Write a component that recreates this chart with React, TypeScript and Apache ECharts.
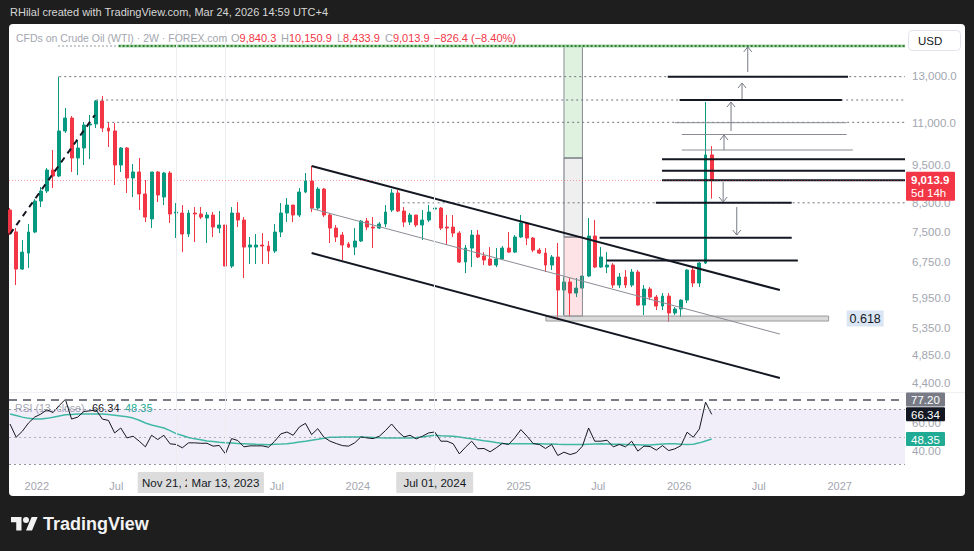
import { useEffect, useRef } from 'react';
import * as echarts from 'echarts';

// ---- bar data (2W candles, CFDs on Crude Oil (WTI), FOREX.com) ----
const FIRST_BAR = '2021-11-01';
const BAR_DAYS = 14;

const opens = [
  8101, 7500, 6578, 6960, 7496, 8362, 8663, 9330, 9134, 10707,
  11209, 9733, 10083, 10936, 10974, 11902, 10821, 10707, 9496, 10083,
  9070, 9265, 8573, 7850, 9265, 8481, 9232, 8016, 8016, 7443,
  8016, 7988, 7876, 7960, 7602, 7684, 6648, 8016, 7820, 7109,
  7109, 7161, 7134, 7009, 7496, 8016, 8245, 7960, 8633, 8974,
  8158, 8724, 7960, 7602, 7417, 7186, 7109, 7262, 7793, 7629,
  7602, 7711, 8101, 8603, 8073, 7765, 7960, 7684, 7820, 8130,
  8158, 7629, 7629, 7469, 6743, 7084, 7417, 6887, 6815, 6672,
  6815, 7084, 6984, 7365, 7738, 7339, 7034, 6960, 6672, 6863,
  6108, 6284, 6044, 6151, 6418, 7391, 6625, 6625, 6672, 6218,
  6395, 6218, 6509, 5794, 6130, 5959, 5773, 5980, 5633, 5713,
  5896, 6555, 6262, 6719, 9840.3,
];
const highs = [
  8158, 7602, 7288, 7711, 8421, 8786, 9396, 10012, 12970, 11612,
  11288, 10372, 11052, 11329, 11944, 12114, 11052, 11013, 10119, 10119,
  9530, 9733, 9006, 9265, 9297, 9265, 9297, 8303, 8245, 8101,
  8187, 8187, 8044, 8044, 8073, 7738, 8187, 8333, 7903, 7365,
  7443, 7469, 7262, 7711, 8303, 8451, 8245, 8755, 9232, 9462,
  8786, 8755, 8016, 7684, 7496, 7237, 7602, 7820, 7876, 7903,
  7765, 8245, 8724, 8693, 8187, 8016, 7960, 8101, 8245, 8391,
  8187, 7960, 7960, 7522, 7161, 7549, 7549, 6984, 7109, 7084,
  7134, 7496, 7417, 7960, 7765, 7365, 7084, 7084, 6911, 7211,
  6395, 6373, 6373, 6441, 7876, 7820, 7109, 6984, 6719, 6486,
  6555, 6578, 6555, 6218, 6173, 6002, 6044, 6044, 5753, 5910,
  6578, 6625, 6743, 11860, 10150.9,
];
const lows = [
  7417, 6218, 6555, 6602, 7469, 8187, 8603, 8755, 9102, 10631,
  9265, 9167, 9496, 9699, 10821, 10669, 10119, 8849, 9265, 8603,
  8481, 8101, 7765, 7602, 8333, 8245, 7738, 7339, 6984, 7365,
  7237, 7848, 7211, 7365, 7469, 6418, 6600, 7629, 6373, 6696,
  6696, 6696, 6696, 6960, 7365, 7765, 7765, 7903, 8600, 8044,
  8101, 7903, 7211, 7237, 6791, 7084, 6911, 7237, 7549, 7084,
  7575, 7629, 8044, 8044, 7629, 7684, 7629, 7288, 7765, 8101,
  7549, 7161, 7365, 6720, 6486, 6625, 6840, 6672, 6650, 6625,
  6791, 6960, 6960, 7339, 7161, 6984, 6935, 6509, 6555, 5495,
  5593, 5553, 5959, 5959, 6395, 6602, 6602, 6486, 6151, 6151,
  6151, 6173, 5780, 5593, 5896, 5693, 5693, 5457, 5593, 5553,
  5835, 6173, 6173, 6696, 8433.9,
];
const closes = [
  7469, 6578, 6984, 7496, 8362, 8663, 9330, 9134, 10707, 11209,
  9733, 10083, 10936, 10974, 11902, 10821, 10707, 9496, 10083, 9070,
  9265, 8573, 7903, 9265, 8542, 9232, 7988, 8044, 7443, 8016,
  7988, 7903, 7960, 7629, 7684, 6648, 8016, 7820, 7109, 7161,
  7161, 7134, 7009, 7496, 8016, 8245, 7960, 8633, 8974, 8158,
  8724, 7960, 7602, 7365, 7161, 7109, 7262, 7793, 7629, 7602,
  7711, 8044, 8603, 8073, 7765, 7960, 7684, 7820, 8044, 8158,
  7602, 7602, 7469, 6743, 7084, 7417, 6863, 6791, 6672, 6815,
  7084, 6984, 7365, 7738, 7339, 7034, 6960, 6672, 6863, 6108,
  6284, 6044, 6151, 6418, 7391, 6625, 6863, 6672, 6218, 6395,
  6218, 6509, 5794, 6130, 5959, 5773, 5980, 5633, 5713, 5896,
  6555, 6262, 6719, 9840.3, 9013.9,
];

// RSI(13, close) and its moving average
const rsi = [
  59.3, 49.7, 54.0, 60.0, 64.3, 66.5, 69.6, 67.7, 72.8, 77.2,
  62.9, 64.3, 68.4, 68.9, 69.5, 62.9, 61.9, 52.8, 56.4, 49.2,
  50.4, 46.8, 42.7, 51.1, 48.0, 51.1, 44.9, 44.4, 42.0, 45.6,
  45.6, 45.3, 45.3, 43.2, 43.7, 37.6, 48.7, 47.3, 42.7, 43.4,
  43.4, 43.4, 42.4, 46.8, 52.1, 53.5, 51.1, 57.1, 59.8, 51.6,
  55.9, 49.7, 46.8, 45.1, 43.6, 43.2, 45.6, 49.9, 49.2, 48.7,
  50.4, 54.5, 59.3, 54.0, 49.9, 51.1, 48.5, 50.4, 52.8, 53.5,
  46.8, 46.8, 44.9, 37.6, 42.4, 46.8, 41.3, 41.5, 39.1, 42.0,
  45.3, 44.4, 49.2, 55.2, 50.4, 45.1, 44.4, 41.5, 44.4, 36.4,
  38.8, 37.1, 38.4, 43.2, 56.4, 46.8, 46.8, 47.5, 42.7, 44.4,
  42.7, 46.8, 39.6, 43.2, 42.9, 40.3, 43.6, 40.0, 41.2, 43.6,
  53.3, 49.7, 55.7, 75.2, 66.34,
];
const rsiMa = [
  66.5, 65.5, 64.3, 63.4, 62.9, 63.0, 63.4, 64.2, 65.2, 66.0,
  66.3, 66.5, 66.5, 66.5, 66.5, 66.6, 66.2, 65.7, 65.2, 64.5,
  63.6, 62.0, 60.0, 58.6, 57.5, 56.4, 54.5, 52.3, 51.0, 49.5,
  48.5, 47.8, 47.0, 46.6, 46.0, 45.7, 45.4, 45.1, 44.9, 44.7,
  44.5, 44.4, 44.3, 44.5, 44.7, 45.0, 45.5, 46.2, 46.8, 47.5,
  48.2, 49.0, 49.6, 49.7, 49.8, 49.9, 49.9, 49.8, 49.7, 49.5,
  49.3, 49.2, 49.2, 49.2, 49.2, 49.2, 49.4, 49.8, 50.5, 51.1,
  50.8, 50.6, 50.4, 49.8, 49.2, 48.5, 47.8, 47.1, 46.5, 45.8,
  45.2, 45.0, 44.9, 44.9, 44.9, 44.9, 44.9, 44.8, 44.7, 44.5,
  44.4, 44.4, 44.4, 44.4, 44.6, 44.8, 44.9, 44.8, 44.6, 44.5,
  44.4, 44.3, 44.2, 44.1, 44.0, 44.4, 44.7, 44.9, 44.9, 44.5,
  44.4, 44.6, 45.6, 47.0, 48.35,
];
const rsiBands = [70, 50, 30];
const rsiMarkLevel = 77.2;

// axis ticks
const priceTicks = [13000, 11000, 9500, 8300, 7500, 6750, 5950, 5350, 4850, 4400];
const rsiTicks = [40, 60];
const timeTicks = ['2022-01-01', '2022-07-01', '2023-07-01', '2024-01-01', '2025-01-01', '2025-07-01', '2026-01-01', '2026-07-01', '2027-01-01'];
const timeTickLabels = ['2022', 'Jul', 'Jul', '2024', '2025', 'Jul', '2026', 'Jul', '2027'];
const markedDates = ['2022-11-21', '2023-03-13', '2024-07-01'];
const markedDateLabels = ['Nov 21, 2022', 'Mar 13, 2023', 'Jul 01, 2024'];

// drawings: [startDate, startPrice, endDate (null = to the right edge), endPrice, kind]
const segments: [string, number, string | null, number, string][] = [
  ['2022-07-06', 14450, null, 14450, 'target'],
  ['2022-02-21', 12970, null, 12970, 'dotted'],
  ['2022-05-16', 11944, null, 11944, 'dotted'],
  ['2022-06-10', 11040, null, 11040, 'dotted'],
  ['2024-04-12', 8310, null, 8310, 'dotted'],
  ['2021-11-01', 7443, '2022-05-13', 11329, 'dash'],
  ['2023-09-18', 9462, '2026-08-18', 6108, 'thick'],
  ['2023-09-14', 8158, '2026-08-18', 5230, 'thin'],
  ['2023-09-18', 6960, '2026-08-18', 4478, 'thick'],
  ['2025-12-06', 12970, '2027-01-20', 12970, 'thick'],
  ['2026-01-02', 11944, '2027-01-06', 11944, 'thick'],
  ['2025-12-22', 11025, '2027-01-17', 11025, 'thin'],
  ['2026-01-07', 10575, '2027-01-17', 10575, 'thin'],
  ['2026-01-07', 10012, '2027-01-31', 10012, 'thin'],
  ['2025-11-23', 9690, null, 9690, 'thick'],
  ['2025-11-23', 9307, null, 9307, 'thick'],
  ['2025-11-23', 9000, null, 9000, 'thick'],
  ['2025-11-09', 8310, '2026-09-14', 8310, 'thick'],
  ['2025-07-04', 7346, '2026-09-14', 7346, 'thick'],
  ['2025-07-20', 6778, '2026-09-28', 6778, 'thick'],
];
// arrows: [date, fromPrice, toPrice]
const arrows: [string, number, number][] = [
  ['2026-06-06', 13185, 14404],
  ['2026-05-24', 11986, 12683],
  ['2026-04-29', 10707, 11860],
  ['2026-04-13', 10012, 10557],
  ['2026-04-11', 8943, 8333],
  ['2026-05-12', 8187, 7417],
];
// boxes: [startDate, endDate, topPrice, bottomPrice, kind]
const zones: [string, string, number, number, string][] = [
  ['2025-04-14', '2025-05-26', 14450, 9733, 'profit'],
  ['2025-04-14', '2025-05-26', 9733, 7365, 'neutral'],
  ['2025-04-14', '2025-05-26', 7365, 5573, 'loss'],
  ['2025-03-04', '2026-12-07', 5573, 5476, 'fib'],
];
const fibRatio = '0.618';
const fibLabelDate = '2027-01-17';
const countdown = '5d 14h';

// ---- layout ----
const VIEW_FROM = '2021-10-29T17:25:00Z';
const VIEW_TO = '2027-05-29T15:50:00Z';
const FONT = '"Liberation Sans", Arial, sans-serif';
const UP = '#089981';
const DOWN = '#f23645';
const AXIS_TEXT = '#a3a6af';
const DAY = 86400000;

const ts = (d: string) => Date.parse(d.length <= 10 ? d + 'T00:00:00Z' : d);
const fmt1 = (v: number) => v.toLocaleString('en-US', { minimumFractionDigits: 1, maximumFractionDigits: 1 });

echarts.graphic.registerShape(
  'tvLogo',
  echarts.graphic.extendPath('M14 22H7V11H0V4h14v18zM28 22h-8l7.5-18h8L28 22zM24 8a4 4 0 1 1-8 0a4 4 0 1 1 8 0z', {})
);

function buildOption(): any {
  const first = ts(FIRST_BAR);
  const barTimes = closes.map((_, i) => first + i * BAR_DAYS * DAY);
  const xMin = ts(VIEW_FROM);
  const xMax = ts(VIEW_TO);
  const last = closes.length - 1;
  const snap = (d: string) => barTimes[Math.floor((ts(d) - first) / (BAR_DAYS * DAY))];
  const markedTimes = markedDates.map(snap);

  const segStyle: Record<string, any> = {
    thick: { stroke: '#131722', lineWidth: 2 },
    thin: { stroke: '#8a8d96', lineWidth: 1 },
    dotted: { stroke: '#6f727c', lineWidth: 1, lineDash: [2, 3] },
    dash: { stroke: '#131722', lineWidth: 2, lineDash: [6, 5] },
  };
  const zoneStyle: Record<string, any> = {
    profit: { fill: 'rgba(76,175,80,0.18)', stroke: '#8a8d96', lineWidth: 1 },
    neutral: { fill: 'rgba(120,123,134,0.12)', stroke: '#6f727c', lineWidth: 1 },
    loss: { fill: 'rgba(242,54,69,0.14)', stroke: '#8a8d96', lineWidth: 1 },
    fib: { fill: 'rgba(150,150,150,0.35)', stroke: '#9a9a9a', lineWidth: 1 },
  };

  const change = closes[last] - closes[last - 1];
  const pct = (change / closes[last - 1]) * 100;
  const minus = (v: number) => (v < 0 ? '\u2212' : '+') + fmt1(Math.abs(v));

  const rsiTags = [
    { v: rsiMarkLevel, bg: '#787b86' },
    { v: rsi[last], bg: '#131722' },
    { v: rsiMa[last], bg: '#22ab94' },
  ];

  const legendPiece = (x: number, k: string, v: string) => ({
    type: 'text', x, y: 38, z: 100,
    style: {
      text: `{k|${k}}{v|${v}}`, textVerticalAlign: 'middle', verticalAlign: 'middle',
      rich: { k: { fill: AXIS_TEXT, fontSize: 11, fontFamily: FONT }, v: { fill: DOWN, fontSize: 11, fontFamily: FONT } },
    },
  });

  return {
    animation: false,
    backgroundColor: 'transparent',
    textStyle: { fontFamily: FONT },
    grid: [
      { left: 9, right: 69, top: 30, height: 362, outerBoundsMode: 'none' },
      { left: 9, right: 69, top: 393, height: 80, outerBoundsMode: 'none' },
    ],
    xAxis: [
      { type: 'value', gridIndex: 0, min: xMin, max: xMax, show: false },
      {
        type: 'value', gridIndex: 1, min: xMin, max: xMax,
        axisLine: { show: false }, axisTick: { show: false }, splitLine: { show: false },
        axisLabel: {
          customValues: timeTicks.map(ts),
          formatter: (v: number) => {
            const i = timeTicks.map(ts).indexOf(v);
            return i >= 0 ? timeTickLabels[i] : '';
          },
          color: AXIS_TEXT, fontSize: 11, margin: 7, fontFamily: FONT,
        },
      },
    ],
    yAxis: [
      {
        type: 'log', logBase: 10, gridIndex: 0, position: 'right', min: 4263, max: 15291,
        axisLine: { show: false }, axisTick: { show: false }, splitLine: { show: false },
        axisLabel: {
          customValues: priceTicks,
          formatter: (v: number) => fmt1(Math.round(v)),
          color: AXIS_TEXT, fontSize: 11.5, margin: 7, align: 'left', fontFamily: FONT,
        },
      },
      {
        type: 'value', gridIndex: 1, position: 'right', min: 23.67, max: 81.85,
        axisLine: { show: false }, axisTick: { show: false }, splitLine: { show: false },
        axisLabel: {
          customValues: rsiTicks,
          formatter: (v: number) => v.toFixed(2),
          color: AXIS_TEXT, fontSize: 11.5, margin: 7, align: 'left', fontFamily: FONT,
        },
      },
    ],
    series: [
      {
        type: 'candlestick', name: 'WTI', xAxisIndex: 0, yAxisIndex: 0, z: 2,
        data: barTimes.map((t, i) => [t, opens[i], closes[i], lows[i], highs[i]]),
        encode: { x: 0, y: [1, 2, 3, 4] },
        barWidth: 3.4,
        itemStyle: { color: UP, color0: DOWN, borderColor: UP, borderColor0: DOWN, borderWidth: 1 },
        markLine: {
          silent: true, symbol: ['none', 'none'], label: { show: false },
          data: [
            ...markedTimes.map((t) => ({ xAxis: t, lineStyle: { color: '#eceef2', width: 1, type: 'solid' } })),
            { yAxis: closes[last], lineStyle: { color: 'rgba(242,54,69,0.45)', width: 1, type: [1, 2] } },
          ],
        },
      },
      {
        type: 'custom', name: 'zones', xAxisIndex: 0, yAxisIndex: 0, z: 3, clip: false,
        data: zones.map((zn) => [ts(zn[0]), zn[2], ts(zn[1]), zn[3]]),
        renderItem: (params: any, api: any) => {
          const kind = zones[params.dataIndex][4];
          const a = api.coord([api.value(0), api.value(1)]);
          const b = api.coord([api.value(2), api.value(3)]);
          return {
            type: 'rect',
            shape: { x: a[0], y: a[1], width: b[0] - a[0], height: b[1] - a[1] },
            style: zoneStyle[kind],
          };
        },
      },
      {
        type: 'custom', name: 'segments', xAxisIndex: 0, yAxisIndex: 0, z: 4, clip: false,
        data: segments.map((s) => [ts(s[0]), s[1], s[2] ? ts(s[2]) : xMax, s[3]]),
        renderItem: (params: any, api: any) => {
          const kind = segments[params.dataIndex][4];
          const a = api.coord([api.value(0), api.value(1)]);
          const b = api.coord([api.value(2), api.value(3)]);
          const shape = { x1: a[0], y1: a[1], x2: b[0], y2: b[1] };
          if (kind === 'target') {
            return {
              type: 'group',
              children: [
                { type: 'line', shape, style: { stroke: '#a5d6a7', lineWidth: 3 } },
                { type: 'line', shape, style: { stroke: '#2e7d32', lineWidth: 2, lineDash: [2, 2] } },
              ],
            };
          }
          return { type: 'line', shape, style: segStyle[kind] };
        },
      },
      {
        type: 'custom', name: 'arrows', xAxisIndex: 0, yAxisIndex: 0, z: 4, clip: false,
        data: arrows.map((r) => [ts(r[0]), r[1], r[2]]),
        renderItem: (params: any, api: any) => {
          const a = api.coord([api.value(0), api.value(1)]);
          const b = api.coord([api.value(0), api.value(2)]);
          const dir = b[1] < a[1] ? 1 : -1;
          const st = { stroke: '#787b86', lineWidth: 1, fill: 'none' };
          return {
            type: 'group',
            children: [
              { type: 'line', shape: { x1: a[0], y1: a[1], x2: b[0], y2: b[1] }, style: st },
              { type: 'polyline', shape: { points: [[b[0] - 4, b[1] + dir * 5], [b[0], b[1]], [b[0] + 4, b[1] + dir * 5]] }, style: st },
            ],
          };
        },
      },
      {
        type: 'custom', name: 'fibLabel', xAxisIndex: 0, yAxisIndex: 0, z: 5, clip: false,
        data: [[ts(fibLabelDate), Math.sqrt(zones[3][2] * zones[3][3])]],
        renderItem: (params: any, api: any) => {
          const p = api.coord([api.value(0), api.value(1)]);
          return {
            type: 'group',
            children: [
              { type: 'rect', shape: { x: p[0], y: p[1] - 8, width: 37, height: 16 }, style: { fill: '#dbe6f5' } },
              { type: 'text', style: { text: fibRatio, x: p[0] + 18.5, y: p[1] + 0.5, fill: '#131722', font: `12.5px ${FONT}`, align: 'center', verticalAlign: 'middle', textAlign: 'center', textVerticalAlign: 'middle' } },
            ],
          };
        },
      },
      {
        type: 'custom', name: 'lastPrice', xAxisIndex: 0, yAxisIndex: 0, z: 10, clip: false,
        data: [[xMax, closes[last]]],
        renderItem: (params: any, api: any) => {
          const cs = params.coordSys;
          const p = api.coord([api.value(0), api.value(1)]);
          const x = cs.x + cs.width + 1;
          return {
            type: 'group',
            children: [
              { type: 'rect', shape: { x, y: p[1] - 8, width: 49, height: 29, r: 1 }, style: { fill: DOWN } },
              { type: 'text', style: { text: fmt1(closes[last]), x: x + 5, y: p[1] + 0.5, fill: '#fff', font: `bold 11.5px ${FONT}`, verticalAlign: 'middle', textVerticalAlign: 'middle' } },
              { type: 'text', style: { text: countdown, x: x + 5, y: p[1] + 13.5, fill: '#fff', font: `11.5px ${FONT}`, verticalAlign: 'middle', textVerticalAlign: 'middle' } },
            ],
          };
        },
      },
      {
        type: 'line', name: 'RSI', xAxisIndex: 1, yAxisIndex: 1, z: 3,
        data: barTimes.map((t, i) => [t, rsi[i]]),
        symbol: 'none', lineStyle: { color: '#131722', width: 1 },
        markLine: {
          silent: true, symbol: ['none', 'none'], label: { show: false },
          data: [
            ...rsiBands.map((b, i) => ({ yAxis: b, lineStyle: { color: i === 1 ? 'rgba(120,123,134,0.55)' : '#9598a1', width: 1, type: [2, 3] } })),
            { yAxis: rsiMarkLevel, lineStyle: { color: '#787b86', width: 2, type: [8, 6] } },
            ...markedTimes.map((t) => ({ xAxis: t, lineStyle: { color: '#eceef2', width: 1, type: 'solid' } })),
          ],
        },
      },
      {
        type: 'line', name: 'RSI MA', xAxisIndex: 1, yAxisIndex: 1, z: 2,
        data: barTimes.map((t, i) => [t, rsiMa[i]]),
        symbol: 'none', lineStyle: { color: '#3fb8a6', width: 1.5 },
        markArea: {
          silent: true,
          itemStyle: { color: 'rgba(126,87,194,0.1)' },
          data: [[{ yAxis: rsiBands[0] }, { yAxis: rsiBands[2] }]],
        },
      },
      {
        type: 'custom', name: 'rsiTags', xAxisIndex: 1, yAxisIndex: 1, z: 10, clip: false,
        data: rsiTags.map((t) => [xMax, t.v]),
        renderItem: (params: any, api: any) => {
          const cs = params.coordSys;
          const tag = rsiTags[params.dataIndex];
          const p = api.coord([api.value(0), api.value(1)]);
          const x = cs.x + cs.width + 1;
          return {
            type: 'group',
            children: [
              { type: 'rect', shape: { x, y: p[1] - 7, width: 39, height: 14, r: 1 }, style: { fill: tag.bg } },
              { type: 'text', style: { text: tag.v.toFixed(2), x: x + 5, y: p[1] + 0.5, fill: '#fff', font: `11.5px ${FONT}`, verticalAlign: 'middle', textVerticalAlign: 'middle' } },
            ],
          };
        },
      },
      {
        type: 'custom', name: 'dateTags', xAxisIndex: 1, yAxisIndex: 1, z: 10, clip: false,
        data: markedTimes.map((t) => [t, 50]),
        renderItem: (params: any, api: any) => {
          const cs = params.coordSys;
          const p = api.coord([api.value(0), api.value(1)]);
          const y = cs.y + cs.height;
          return {
            type: 'group',
            children: [
              { type: 'rect', shape: { x: p[0] - 38.5, y: y - 1, width: 77, height: 21, r: 1 }, style: { fill: '#dcdcdc' } },
              { type: 'text', style: { text: markedDateLabels[params.dataIndex], x: p[0], y: y + 10, fill: '#131722', font: `11.5px ${FONT}`, align: 'center', verticalAlign: 'middle', textAlign: 'center', textVerticalAlign: 'middle' } },
            ],
          };
        },
      },
    ],
    graphic: [
      { type: 'text', x: 10, y: 12, z: 100, style: { text: 'RHilal created with TradingView.com, Mar 24, 2026 14:59 UTC+4', fill: '#d6d6d6', font: `11px ${FONT}`, verticalAlign: 'middle', textVerticalAlign: 'middle' } },
      { type: 'text', x: 16, y: 38, z: 100, style: { text: 'CFDs on Crude Oil (WTI) \u00b7 2W \u00b7 FOREX.com', fill: AXIS_TEXT, font: `10.5px ${FONT}`, verticalAlign: 'middle', textVerticalAlign: 'middle' } },
      { type: 'line', z: 100, shape: { x1: 58, y1: 46, x2: 118, y2: 46 }, style: { stroke: '#9598a1', lineWidth: 1, lineDash: [2, 2] } },
      legendPiece(231, 'O', fmt1(opens[last])),
      legendPiece(281, 'H', fmt1(highs[last])),
      legendPiece(337, 'L', fmt1(lows[last])),
      legendPiece(385, 'C', fmt1(closes[last])),
      { type: 'text', x: 434, y: 38, z: 100, style: { text: `${minus(change)} (${pct < 0 ? '\u2212' : '+'}${Math.abs(pct).toFixed(2)}%)`, fill: DOWN, font: `11px ${FONT}`, verticalAlign: 'middle', textVerticalAlign: 'middle' } },
      { type: 'rect', z: 100, shape: { x: 908.5, y: 30.5, width: 52, height: 20, r: 4 }, style: { fill: '#ffffff', stroke: '#e0e3eb', lineWidth: 1 } },
      { type: 'text', x: 918, y: 41, z: 101, style: { text: 'USD', fill: '#131722', font: `11.5px ${FONT}`, verticalAlign: 'middle', textVerticalAlign: 'middle' } },
      { type: 'line', z: 1, shape: { x1: 9, y1: 392.5, x2: 965, y2: 392.5 }, style: { stroke: '#eef0f3', lineWidth: 1 } },
      { type: 'text', x: 15, y: 408, z: 1, style: { text: 'RSI (13, close)', fill: AXIS_TEXT, font: `10.5px ${FONT}`, verticalAlign: 'middle', textVerticalAlign: 'middle' } },
      { type: 'text', x: 92, y: 408, z: 1, style: { text: rsi[last].toFixed(2), fill: '#131722', font: `11px ${FONT}`, verticalAlign: 'middle', textVerticalAlign: 'middle' } },
      { type: 'text', x: 125, y: 408, z: 1, style: { text: rsiMa[last].toFixed(2), fill: '#22ab94', font: `11px ${FONT}`, verticalAlign: 'middle', textVerticalAlign: 'middle' } },
      { type: 'tvLogo', x: 11, y: 514, scaleX: 0.75, scaleY: 0.75, z: 100, style: { fill: '#f2f2f2' } },
      { type: 'text', x: 43, y: 524, z: 100, style: { text: 'TradingView', fill: '#f2f2f2', font: `bold 18px ${FONT}`, verticalAlign: 'middle', textVerticalAlign: 'middle' } },
    ],
  };
}

export default function App() {
  const ref = useRef<HTMLDivElement>(null);
  useEffect(() => {
    if (!ref.current) return;
    const chart = echarts.init(ref.current, undefined, { renderer: 'svg', width: 974, height: 551 });
    chart.setOption(buildOption());
    return () => chart.dispose();
  }, []);
  return (
    <div style={{ position: 'fixed', left: 0, top: 0, width: 974, height: 551, background: '#1e1e1e', overflow: 'hidden' }}>
      <div style={{ position: 'absolute', left: 9, top: 24, width: 956, height: 472, background: '#ffffff', borderRadius: 4 }} />
      <div ref={ref} style={{ position: 'absolute', left: 0, top: 0, width: 974, height: 551 }} />
    </div>
  );
}
